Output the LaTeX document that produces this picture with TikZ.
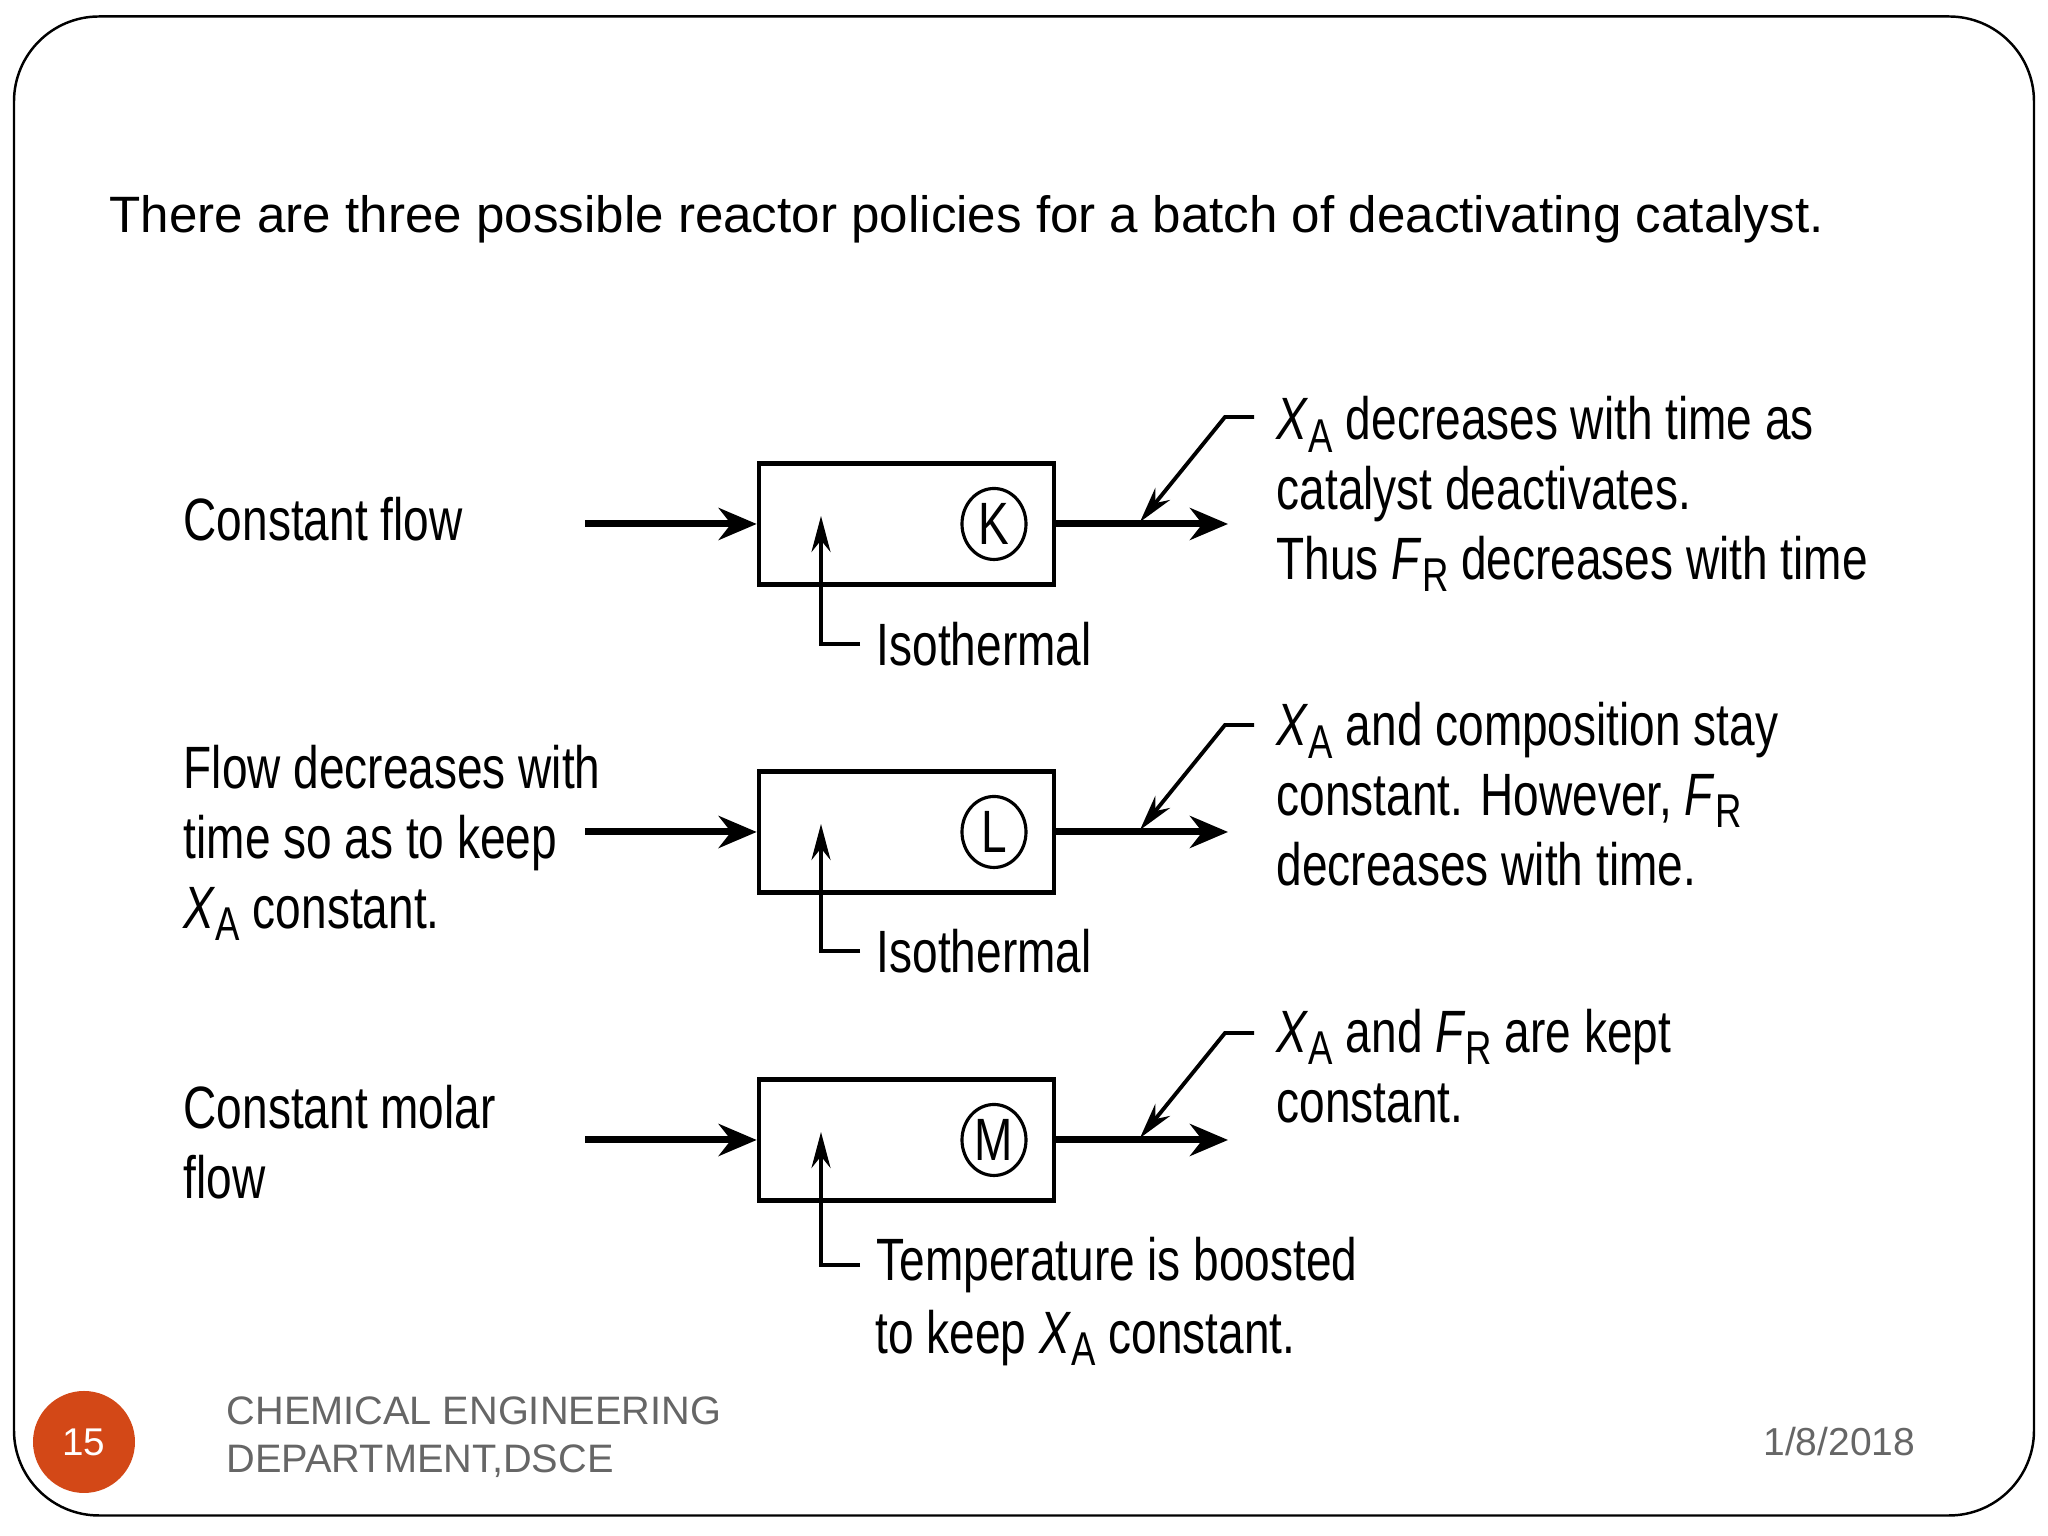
\documentclass[tikz,border=0pt]{standalone}
\usepackage{fontspec}
\setmainfont{Liberation Sans}
\newfontfamily\figfont[FakeStretch=0.77]{Liberation Sans}
\usetikzlibrary{
	arrows.meta,
	shapes.geometric
}
\definecolor{slidegray}{HTML}{666666}
\definecolor{pagered}{HTML}{D34817}
\newcommand{\Xa}{\textit{X}\raisebox{-0.4ex}{\fontsize{13.5}{13.5}\selectfont A}}
\newcommand{\Fr}{\textit{F}\raisebox{-0.4ex}{\fontsize{13.5}{13.5}\selectfont R}}
\tikzset{
	figtext/.style={inner sep=0pt,anchor=west,align=left,font=\figfont\fontsize{17}{19.9}\selectfont},
	isotext/.style={figtext,inner xsep=0.16cm},
	reactor/.style={draw,line width=1.3pt,minimum width=2.95cm,minimum height=1.21cm},
	kind/.style={draw,ellipse,line width=0.9pt,minimum width=0.64cm,minimum height=0.71cm,inner sep=0pt,font=\figfont\fontsize{17}{17}\selectfont},
	flow/.style={-{Stealth[length=0.38cm,width=0.32cm]},line width=2pt},
	thin leader/.style={-{Stealth[length=0.36cm,width=0.19cm]},line width=1.1pt}
}
\begin{document}
\begin{tikzpicture}
    \useasboundingbox (0,0) rectangle (20.48,15.36);
    % Definitions
    \coordinate (RK)  at (9.065,10.12);
    \coordinate (RL)  at (9.065,7.04);
    \coordinate (RM)  at (9.065,3.96);
    \coordinate (InK) at (5.85,10.12);
    \coordinate (InL) at (5.85,7.04);
    \coordinate (InM) at (5.85,3.96);
    \coordinate (OuK) at (12.28,10.12);
    \coordinate (OuL) at (12.28,7.04);
    \coordinate (OuM) at (12.28,3.96);
    \coordinate (LeK) at (12.54,11.19);
    \coordinate (LeL) at (12.54,8.11);
    \coordinate (LeM) at (12.54,5.03);
    \coordinate (BeK) at (12.25,11.19);
    \coordinate (BeL) at (12.25,8.11);
    \coordinate (BeM) at (12.25,5.03);
    \coordinate (TaK) at (11.40,10.14);
    \coordinate (TaL) at (11.40,7.06);
    \coordinate (TaM) at (11.40,3.98);
    \coordinate (UpK) at (8.21,10.20);
    \coordinate (UpL) at (8.21,7.12);
    \coordinate (UpM) at (8.21,4.04);
    % Slide
    \node(Fram) at (10.24,7.70) [draw,line width=0.7pt,rounded corners=0.85cm,minimum width=20.2cm,minimum height=14.99cm] {};
    \node(Head) at (1.09,13.17) [anchor=west,inner sep=0pt,font=\fontsize{14.55}{16}\selectfont] {There are three possible reactor policies for a batch of deactivating catalyst.};
    % Reactors
    \node(BoxK) at (RK) [reactor] {};
    \node(BoxL) at (RL) [reactor] {};
    \node(BoxM) at (RM) [reactor] {};
    \node(CirK) at (9.94,10.12) [kind] {K};
    \node(CirL) at (9.94,7.04)  [kind] {L};
    \node(CirM) at (9.94,3.96)  [kind] {M};
    % Left labels
    \node(FloK) at (1.83,10.17) [figtext] {Constant flow};
    \node(FloL) at (1.83,6.93)  [figtext] {Flow decreases with\\time so as to keep\\\Xa{} constant.};
    \node(FloM) at (1.83,3.94)  [figtext] {Constant molar\\flow};
    % Right labels
    \node(OutK) at (12.76,10.42) [figtext] {\Xa{} decreases with time as\\catalyst deactivates.\\Thus \Fr{} decreases with time};
    \node(OutL) at (12.76,7.42)  [figtext] {\Xa{} and composition stay\\constant. However, \Fr{}\\decreases with time.};
    \node(OutM) at (12.76,4.70)  [figtext] {\Xa{} and \Fr{} are kept\\constant.};
    % Lower labels
    \node(IsoK) at (8.60,8.92) [isotext] {Isothermal};
    \node(IsoL) at (8.60,5.85) [isotext] {Isothermal};
    \node(TemM) at (8.60,2.71) [isotext] {Temperature is boosted};
    \node(KeeM) at (8.75,1.98) [figtext] {to keep \Xa{} constant.};
    % Footer
    \node(PagN) at (0.84,0.94) [circle,fill=pagered,text=white,minimum size=1.02cm,inner sep=0pt,font=\fontsize{11}{13}\selectfont] {15};
    \node(DepT) at (2.26,0.99) [anchor=west,inner sep=0pt,align=left,text=slidegray,font=\fontsize{11.3}{13.6}\selectfont] {CHEMICAL ENGINEERING\\DEPARTMENT,DSCE};
    \node(DatE) at (19.16,0.94) [anchor=east,inner sep=0pt,text=slidegray,font=\fontsize{11.1}{13}\selectfont] {1/8/2018};
    % Arrows
    \draw[flow] (InK)  -- (BoxK);
    \draw[flow] (InL)  -- (BoxL);
    \draw[flow] (InM)  -- (BoxM);
    \draw[flow] (BoxK) -- (OuK);
    \draw[flow] (BoxL) -- (OuL);
    \draw[flow] (BoxM) -- (OuM);
    \draw[thin leader] (LeK) -- (BeK) -- (TaK);
    \draw[thin leader] (LeL) -- (BeL) -- (TaL);
    \draw[thin leader] (LeM) -- (BeM) -- (TaM);
    \draw[thin leader] (IsoK.west) -| (UpK);
    \draw[thin leader] (IsoL.west) -| (UpL);
    \draw[thin leader] (TemM.west) -| (UpM);
\end{tikzpicture}
\end{document}
